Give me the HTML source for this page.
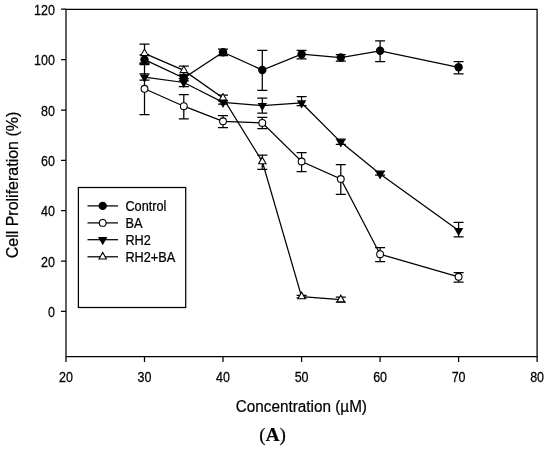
<!DOCTYPE html>
<html><head><meta charset="utf-8"><title>Cell Proliferation (A)</title>
<style>
html,body{margin:0;padding:0;background:#fff;}
svg{display:block;position:absolute;left:0;top:0;}
text{font-family:"Liberation Sans",sans-serif;fill:#000;stroke:#000;stroke-width:0.22px;}
</style></head><body>
<svg width="550" height="449" viewBox="0 0 550 449">
<rect width="550" height="449" fill="#fff"/>
<g font-size="12.5">
<text transform="translate(54.9 14.8) scale(1 1.14)" text-anchor="end">120</text>
<text transform="translate(54.9 65.1) scale(1 1.14)" text-anchor="end">100</text>
<text transform="translate(54.9 115.5) scale(1 1.14)" text-anchor="end">80</text>
<text transform="translate(54.9 165.8) scale(1 1.14)" text-anchor="end">60</text>
<text transform="translate(54.9 216.2) scale(1 1.14)" text-anchor="end">40</text>
<text transform="translate(54.9 266.5) scale(1 1.14)" text-anchor="end">20</text>
<text transform="translate(54.9 316.9) scale(1 1.14)" text-anchor="end">0</text>
<text transform="translate(66.0 382.1) scale(1 1.14)" text-anchor="middle">20</text>
<text transform="translate(144.5 382.1) scale(1 1.14)" text-anchor="middle">30</text>
<text transform="translate(223.0 382.1) scale(1 1.14)" text-anchor="middle">40</text>
<text transform="translate(301.6 382.1) scale(1 1.14)" text-anchor="middle">50</text>
<text transform="translate(380.1 382.1) scale(1 1.14)" text-anchor="middle">60</text>
<text transform="translate(458.6 382.1) scale(1 1.14)" text-anchor="middle">70</text>
<text transform="translate(537.1 382.1) scale(1 1.14)" text-anchor="middle">80</text>
</g>
<rect x="78.4" y="187.5" width="107.3" height="120" fill="#fff" stroke="#000" stroke-width="1.25"/>
<path d="M87.5 205.9H118" stroke="#000" stroke-width="1.25"/>
<circle cx="102.7" cy="205.9" r="4.2" fill="#000"/>
<text transform="translate(125.4 210.9) scale(1 1.08)" font-size="12.75">Control</text>
<path d="M87.5 222.9H118" stroke="#000" stroke-width="1.25"/>
<circle cx="102.7" cy="222.9" r="3.4" fill="#fff" stroke="#000" stroke-width="1.1"/>
<text transform="translate(125.4 227.9) scale(1 1.08)" font-size="12.75">BA</text>
<path d="M87.5 239.7H118" stroke="#000" stroke-width="1.25"/>
<path d="M98.0 237.0H107.4L102.7 245.2Z" fill="#000"/>
<text transform="translate(125.4 244.7) scale(1 1.08)" font-size="12.75">RH2</text>
<path d="M87.5 256.8H118" stroke="#000" stroke-width="1.25"/>
<path d="M99.0 259.0H106.4L102.7 252.4Z" fill="#fff" stroke="#000" stroke-width="1.1" stroke-linejoin="miter"/>
<text transform="translate(125.4 261.8) scale(1 1.08)" font-size="12.75">RH2+BA</text>
<path d="M144.5 54.8V64.6M139.5 54.8H149.5M139.5 64.6H149.5M183.8 75.2V80.8M178.8 75.2H188.8M178.8 80.8H188.8M223.0 49.2V55.6M218.0 49.2H228.0M218.0 55.6H228.0M262.3 50.4V90.3M257.3 50.4H267.3M257.3 90.3H267.3M301.6 50.4V58.8M296.6 50.4H306.6M296.6 58.8H306.6M340.8 54.7V61.0M335.8 54.7H345.8M335.8 61.0H345.8M380.1 40.9V61.5M375.1 40.9H385.1M375.1 61.5H385.1M458.6 61.5V73.9M453.6 61.5H463.6M453.6 73.9H463.6" fill="none" stroke="#000" stroke-width="1.25"/>
<path d="M144.5 59.6 L183.8 78.0 L223.0 52.3 L262.3 70.0 L301.6 54.2 L340.8 57.5 L380.1 50.8 L458.6 67.3" fill="none" stroke="#000" stroke-width="1.25"/>
<circle cx="144.5" cy="59.6" r="4.2" fill="#000"/>
<circle cx="183.8" cy="78.0" r="4.2" fill="#000"/>
<circle cx="223.0" cy="52.3" r="4.2" fill="#000"/>
<circle cx="262.3" cy="70.0" r="4.2" fill="#000"/>
<circle cx="301.6" cy="54.2" r="4.2" fill="#000"/>
<circle cx="340.8" cy="57.5" r="4.2" fill="#000"/>
<circle cx="380.1" cy="50.8" r="4.2" fill="#000"/>
<circle cx="458.6" cy="67.3" r="4.2" fill="#000"/>
<path d="M144.5 63.0V114.7M139.5 63.0H149.5M139.5 114.7H149.5M183.8 94.6V118.9M178.8 94.6H188.8M178.8 118.9H188.8M223.0 115.7V127.5M218.0 115.7H228.0M218.0 127.5H228.0M262.3 117.3V128.7M257.3 117.3H267.3M257.3 128.7H267.3M301.6 152.6V171.7M296.6 152.6H306.6M296.6 171.7H306.6M340.8 164.5V194.3M335.8 164.5H345.8M335.8 194.3H345.8M380.1 247.6V261.6M375.1 247.6H385.1M375.1 261.6H385.1M458.6 272.5V282.2M453.6 272.5H463.6M453.6 282.2H463.6" fill="none" stroke="#000" stroke-width="1.25"/>
<path d="M144.5 88.8 L183.8 106.2 L223.0 121.3 L262.3 122.9 L301.6 161.5 L340.8 179.0 L380.1 254.2 L458.6 276.8" fill="none" stroke="#000" stroke-width="1.25"/>
<circle cx="144.5" cy="88.8" r="3.4" fill="#fff" stroke="#000" stroke-width="1.1"/>
<circle cx="183.8" cy="106.2" r="3.4" fill="#fff" stroke="#000" stroke-width="1.1"/>
<circle cx="223.0" cy="121.3" r="3.4" fill="#fff" stroke="#000" stroke-width="1.1"/>
<circle cx="262.3" cy="122.9" r="3.4" fill="#fff" stroke="#000" stroke-width="1.1"/>
<circle cx="301.6" cy="161.5" r="3.4" fill="#fff" stroke="#000" stroke-width="1.1"/>
<circle cx="340.8" cy="179.0" r="3.4" fill="#fff" stroke="#000" stroke-width="1.1"/>
<circle cx="380.1" cy="254.2" r="3.4" fill="#fff" stroke="#000" stroke-width="1.1"/>
<circle cx="458.6" cy="276.8" r="3.4" fill="#fff" stroke="#000" stroke-width="1.1"/>
<path d="M144.5 73.8V80.0M139.5 73.8H149.5M139.5 80.0H149.5M183.8 78.5V86.5M178.8 78.5H188.8M178.8 86.5H188.8M223.0 100.6V104.2M218.0 100.6H228.0M218.0 104.2H228.0M262.3 98.0V113.2M257.3 98.0H267.3M257.3 113.2H267.3M301.6 96.7V105.5M296.6 96.7H306.6M296.6 105.5H306.6M340.8 139.0V144.4M335.8 139.0H345.8M335.8 144.4H345.8M380.1 171.0V175.2M375.1 171.0H385.1M375.1 175.2H385.1M458.6 222.4V236.9M453.6 222.4H463.6M453.6 236.9H463.6" fill="none" stroke="#000" stroke-width="1.25"/>
<path d="M144.5 77.2 L183.8 82.5 L223.0 102.4 L262.3 105.6 L301.6 103.0 L340.8 142.1 L380.1 174.0 L458.6 230.6" fill="none" stroke="#000" stroke-width="1.25"/>
<path d="M139.8 74.5H149.2L144.5 82.7Z" fill="#000"/>
<path d="M179.1 79.8H188.5L183.8 88.0Z" fill="#000"/>
<path d="M218.3 99.7H227.7L223.0 107.9Z" fill="#000"/>
<path d="M257.6 102.9H267.0L262.3 111.1Z" fill="#000"/>
<path d="M296.9 100.3H306.3L301.6 108.5Z" fill="#000"/>
<path d="M336.1 139.4H345.5L340.8 147.6Z" fill="#000"/>
<path d="M375.4 171.3H384.8L380.1 179.5Z" fill="#000"/>
<path d="M453.9 227.9H463.3L458.6 236.1Z" fill="#000"/>
<path d="M144.5 44.0V63.0M139.5 44.0H149.5M139.5 63.0H149.5M183.8 66.0V74.8M178.8 66.0H188.8M178.8 74.8H188.8M223.0 95.0V100.8M218.0 95.0H228.0M218.0 100.8H228.0M262.3 155.2V169.3M257.3 155.2H267.3M257.3 169.3H267.3M301.6 295.4V297.8M296.6 295.4H306.6M296.6 297.8H306.6M340.8 297.2V302.0M335.8 297.2H345.8M335.8 302.0H345.8" fill="none" stroke="#000" stroke-width="1.25"/>
<path d="M144.5 53.4 L183.8 70.4 L223.0 97.9 L262.3 161.6 L301.6 296.6 L340.8 299.6" fill="none" stroke="#000" stroke-width="1.25"/>
<path d="M140.8 55.6H148.2L144.5 49.0Z" fill="#fff" stroke="#000" stroke-width="1.1" stroke-linejoin="miter"/>
<path d="M180.1 72.6H187.5L183.8 66.0Z" fill="#fff" stroke="#000" stroke-width="1.1" stroke-linejoin="miter"/>
<path d="M219.3 100.1H226.7L223.0 93.5Z" fill="#fff" stroke="#000" stroke-width="1.1" stroke-linejoin="miter"/>
<path d="M258.6 163.8H266.0L262.3 157.2Z" fill="#fff" stroke="#000" stroke-width="1.1" stroke-linejoin="miter"/>
<path d="M297.9 298.8H305.3L301.6 292.2Z" fill="#fff" stroke="#000" stroke-width="1.1" stroke-linejoin="miter"/>
<path d="M337.1 301.8H344.5L340.8 295.2Z" fill="#fff" stroke="#000" stroke-width="1.1" stroke-linejoin="miter"/>
<path d="M66.0 9.25H537.1V356.5H66.0Z" fill="none" stroke="#000" stroke-width="1.25"/>
<path d="M61.0 9.2H66.0M61.0 59.6H66.0M61.0 110.0H66.0M61.0 160.3H66.0M61.0 210.7H66.0M61.0 261.0H66.0M61.0 311.4H66.0M66.0 356.5V361.9M144.5 356.5V361.9M223.0 356.5V361.9M301.6 356.5V361.9M380.1 356.5V361.9M458.6 356.5V361.9M537.1 356.5V361.9" fill="none" stroke="#000" stroke-width="1.25"/>
<text transform="translate(301.4 412.4) scale(0.956 1)" font-size="16" text-anchor="middle">Concentration (µM)</text>
<text transform="translate(18.4 185) rotate(-90) scale(1 1.06)" font-size="16" text-anchor="middle">Cell Proliferation (%)</text>
<text transform="translate(272.6 440.8) scale(1.06 1)" font-size="18" text-anchor="middle" style="font-family:'Liberation Serif',serif">(<tspan font-weight="bold">A</tspan>)</text>
</svg>
</body></html>
